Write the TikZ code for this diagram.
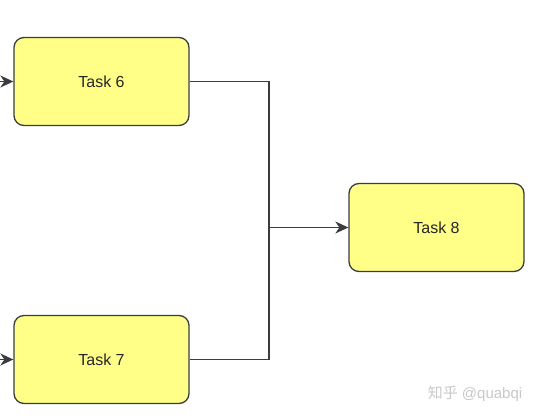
\documentclass[tikz,border=0pt]{standalone}
\usepackage{fontspec}
\setmainfont{Liberation Sans}
\newfontfamily\cjk{Noto Sans CJK SC}
\usetikzlibrary{arrows.meta}
\definecolor{taskyellow}{HTML}{FFFF88}
\definecolor{linegray}{HTML}{3A3C40}
\definecolor{markgray}{HTML}{C8C8C8}

\begin{document}
\begin{tikzpicture}[x=1pt,y=-1pt,
  task/.style={draw=linegray,fill=taskyellow,rounded corners=10pt,minimum width=175pt,minimum height=88pt,line width=1.3pt,text=black!85,font=\fontsize{16}{19}\selectfont},
  wire/.style={draw=linegray,line width=1.4pt},
  link/.style={wire,-{Stealth[length=13pt,width=12pt,inset=4pt]}}]
\useasboundingbox (0,0) rectangle (544,418);

\node[task] (t6) at (101.5,81.5) {Task 6};
\node[task] (t7) at (101.5,359.5) {Task 7};
\node[task] (t8) at (436.5,227.5) {Task 8};
\coordinate (in6) at (0,81.5);
\coordinate (in7) at (0,359.5);
\coordinate (join) at (269,227.5);

\draw[link] (in6) -- (t6);
\draw[link] (in7) -- (t7);
\draw[wire] (t6.east) -| (join);
\draw[wire] (t7.east) -| (join);
\draw[link] (join) -- (t8);

\node[text=markgray,font=\fontsize{15}{18}\selectfont] (mark) at (475,394) {{\cjk 知乎} @quabqi};

\end{tikzpicture}
\end{document}
